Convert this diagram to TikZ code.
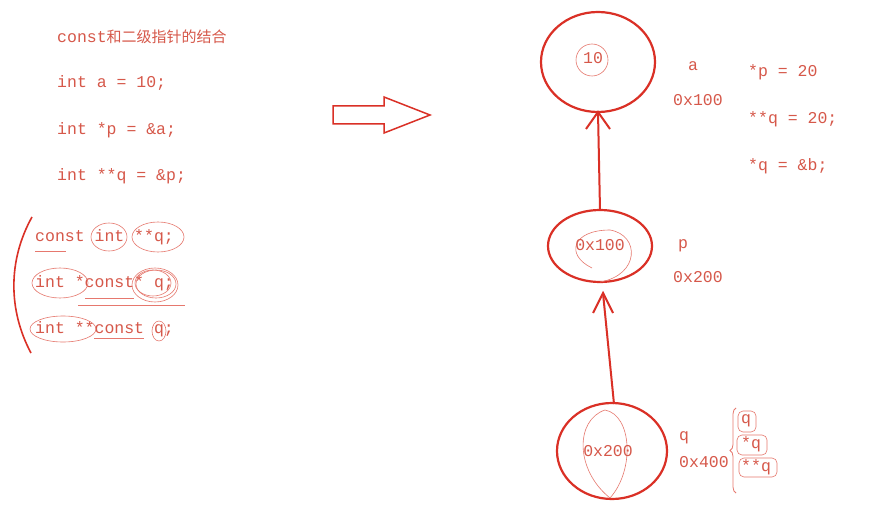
\documentclass[tikz,border=0pt]{standalone}
\usepackage{fontspec}
\newfontfamily\cjk{Noto Sans CJK SC}
\setmonofont{Liberation Mono}
\usetikzlibrary{decorations.pathreplacing,calc}
\definecolor{txt}{RGB}{214,88,74}
\definecolor{ink}{RGB}{218,48,38}
\definecolor{salmon}{RGB}{230,120,110}
\begin{document}
\begin{tikzpicture}[x=1pt,y=-1pt,
  t/.style={text=txt,font=\ttfamily\fontsize{16.5}{18}\selectfont,inner sep=0pt,anchor=west},
  big/.style={draw=ink,line width=2.2pt},
  hand/.style={draw=salmon,line width=0.6pt},
  arr/.style={draw=ink,line width=2pt}]
\useasboundingbox (0,0) rectangle (880,516);
\fill[white] (0,0) rectangle (880,516);
% left code
\node[t] (title) at (57,37) {const{\cjk\fontsize{15}{16}\selectfont 和二级指针的结合}};
\node[t] (l1) at (57,83) {int a = 10;};
\node[t] (l2) at (57,130) {int *p = \&a;};
\node[t] (l3) at (57,176) {int **q = \&p;};
\node[t] (c1) at (35,237) {const int **q;};
\node[t] (c2) at (35,283) {int *const* q;};
\node[t] (c3) at (35,329) {int **const q;};
\draw[ink,line width=1.6pt] (32,217) .. controls (8,260) and (8,310) .. (31,353);
% hand annotations left
\draw[hand] (109,237) ellipse (18 and 14);
\draw[hand] (158,237) ellipse (26 and 15);
\draw[hand] (60,283) ellipse (28 and 15);
\draw[hand] (155,285) ellipse (23 and 17);
\draw[hand] (156,284) ellipse (20 and 14);
\draw[hand] (153,283) ellipse (18 and 13);
\draw[hand] (63,329) ellipse (33 and 13);
\draw[hand] (159,331) ellipse (7 and 10);
\draw[hand] (35,251)--(66,251);
\draw[hand] (85,298)--(134,298);
\draw[hand] (78,305)--(185,305);
\draw[hand] (94,338)--(144,338);
% big arrow
\draw[ink,line width=1.5pt] (333,106)--(384,106)--(384,97)--(430,115)--(384,133)--(384,124)--(333,124)--cycle;
% circles
\draw[big] (598,62) ellipse (57 and 50);
\draw[big] (600,246) ellipse (52 and 36);
\draw[big] (612,451) ellipse (55 and 48);
\coordinate (topb) at (598,112);
\coordinate (midt) at (600,210);
\coordinate (midb) at (603,293);
\coordinate (bott) at (614,404);
\draw[arr] (midt)--(topb);
\draw[arr] ($(topb)+(-12,17)$)--(topb)--($(topb)+(12,17)$);
\draw[arr] (bott)--(midb);
\draw[arr] ($(midb)+(-10,20)$)--(midb)--($(midb)+(10,20)$);
\draw[hand] (592,60) circle (16);
\draw[hand] (592,268) .. controls (565,255) and (572,230) .. (610,230) .. controls (640,235) and (640,275) .. (600,282);
\draw[hand] (610,498) .. controls (575,470) and (575,420) .. (605,410) .. controls (632,415) and (635,470) .. (610,498);
% node texts
\node[t,anchor=center] (v10) at (593,58) {10};
\node[t,anchor=center] (v100) at (600,245) {0x100};
\node[t,anchor=center] (v200) at (608,451) {0x200};
\node[t] (la) at (688,66) {a};
\node[t] (ad1) at (673,100) {0x100};
\node[t] (lp) at (678,246) {p};
\node[t] (ad2) at (673,277) {0x200};
\node[t] (lq) at (679,438) {q};
\node[t] (ad3) at (679,462) {0x400};
\node[t] (e1) at (748,72) {*p = 20};
\node[t] (e2) at (748,119) {**q = 20;};
\node[t] (e3) at (748,166) {*q = \&b;};
\draw[salmon,line width=0.8pt,decorate,decoration={brace,amplitude=6pt,mirror}] (736,408)--(736,493);
\node[t] (q1) at (741,421) {q};
\node[t] (q2) at (741,444) {*q};
\node[t] (q3) at (741,467) {**q};
\draw[hand,rounded corners=5pt] (738,411) rectangle (756,432);
\draw[hand,rounded corners=5pt] (737,435) rectangle (767,455);
\draw[hand,rounded corners=5pt] (739,458) rectangle (777,477);
\end{tikzpicture}
\end{document}
